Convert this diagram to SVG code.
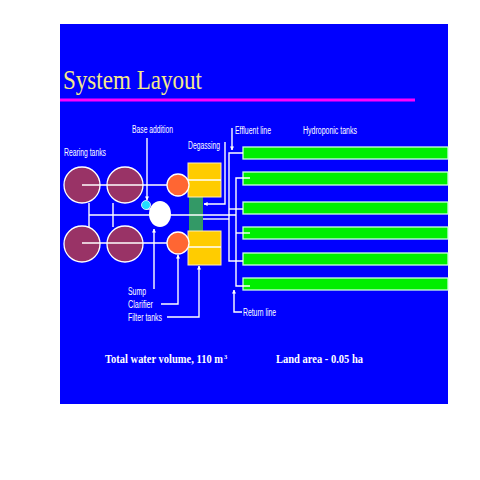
<svg xmlns="http://www.w3.org/2000/svg" width="480" height="480" viewBox="0 0 480 480">
<defs>
<style>
.ln{stroke:#ffffff;stroke-width:1.4;fill:none}
.lbl{font-family:"Liberation Sans",Arial,sans-serif;font-size:10px;fill:#ffffff}
.big{font-family:"Liberation Serif","Times New Roman",serif;font-size:12.5px;font-weight:bold;fill:#ffffff}
.sup{font-family:"Liberation Serif","Times New Roman",serif;font-size:6.5px;font-weight:bold;fill:#ffffff}
.rear{fill:#993366;stroke:#ffffff;stroke-width:1.3}
.orng{fill:#ff6633;stroke:#ffffff;stroke-width:1.3}
.yel{fill:#ffcc00;stroke:#ffeebb;stroke-width:1}
.hyd{fill:#00ee00;stroke:#ccffdd;stroke-width:1.3}
</style>
<marker id="ah" viewBox="0 0 10 10" refX="9" refY="5" markerWidth="4" markerHeight="4" orient="auto" markerUnits="userSpaceOnUse">
<path d="M0,0 L10,5 L0,10 z" fill="#ffffff"/>
</marker>
</defs>
<rect x="60" y="24" width="388" height="380" fill="#0000ff"/>
<text x="63" y="89" font-family="Liberation Serif,'Times New Roman',serif" font-size="28" fill="#f5e98a" textLength="139" lengthAdjust="spacingAndGlyphs">System Layout</text>
<line x1="60" y1="100" x2="415" y2="100" stroke="#ff00ff" stroke-width="3"/>

<g id="hydroponic-tanks">
<rect class="hyd" x="243" y="147" width="205" height="12"/>
<rect class="hyd" x="243" y="172" width="205" height="13"/>
<rect class="hyd" x="243" y="202" width="205" height="12"/>
<rect class="hyd" x="243" y="227" width="205" height="12"/>
<rect class="hyd" x="243" y="253" width="205" height="12"/>
<rect class="hyd" x="243" y="278" width="205" height="12"/>
</g>

<g id="rearing-tanks">
<circle class="rear" cx="82" cy="185" r="18"/>
<circle class="rear" cx="125" cy="185" r="18"/>
<circle class="rear" cx="82" cy="244" r="18"/>
<circle class="rear" cx="125" cy="244" r="18"/>
</g>

<g id="degassing">
<rect x="189" y="197" width="14" height="34" fill="#339966"/>
</g>
<g id="filter-tanks">
<rect class="yel" x="188" y="163" width="33" height="34"/>
<rect class="yel" x="188" y="231" width="33" height="34"/>
<line class="ln" x1="188" y1="180" x2="221" y2="180"/>
<line class="ln" x1="188" y1="247" x2="221" y2="247"/>
</g>

<g id="connectors">
<line class="ln" x1="82" y1="185" x2="167" y2="185"/>
<line class="ln" x1="82" y1="243" x2="167" y2="243"/>
<line class="ln" x1="89" y1="203" x2="89" y2="227"/>
<line class="ln" x1="113" y1="203" x2="113" y2="227"/>
<line class="ln" x1="89" y1="215" x2="236" y2="215"/>
<line class="ln" x1="203" y1="219" x2="229" y2="219"/>
<line class="ln" x1="146" y1="209" x2="152" y2="209"/>
<polyline class="ln" points="243,153 229,153 229,261 243,261"/>
<line class="ln" x1="229" y1="209" x2="243" y2="209"/>
<polyline class="ln" points="250,178 236,178 236,286 250,286"/>
<line class="ln" x1="236" y1="233" x2="250" y2="233"/>
<line class="ln" x1="147" y1="138" x2="147" y2="200" marker-end="url(#ah)"/>
<polyline class="ln" points="225,142 225,204 204,204" marker-end="url(#ah)"/>
<line class="ln" x1="232" y1="128" x2="232" y2="150" marker-end="url(#ah)"/>
<line class="ln" x1="154" y1="289" x2="154" y2="229" marker-end="url(#ah)"/>
<polyline class="ln" points="161,304 178,304 178,255" marker-end="url(#ah)"/>
<polyline class="ln" points="167,317 199,317 199,266" marker-end="url(#ah)"/>
<polyline class="ln" points="242,312 234,312 234,290" marker-end="url(#ah)"/>
</g>

<g id="clarifiers">
<circle class="orng" cx="178" cy="185" r="11"/>
<circle class="orng" cx="178" cy="243" r="11"/>
</g>
<g id="sump">
<ellipse cx="160" cy="214" rx="11" ry="13" fill="#ffffff"/>
</g>
<g id="base-addition">
<circle cx="146" cy="205" r="4.5" fill="#22ddff" stroke="#ffffff" stroke-width="0.8"/>
</g>

<g id="labels">
<text class="lbl" x="64" y="156" textLength="42" lengthAdjust="spacingAndGlyphs">Rearing tanks</text>
<text class="lbl" x="132" y="133" textLength="41" lengthAdjust="spacingAndGlyphs">Base addition</text>
<text class="lbl" x="188" y="149" textLength="32" lengthAdjust="spacingAndGlyphs">Degassing</text>
<text class="lbl" x="235" y="134" textLength="36" lengthAdjust="spacingAndGlyphs">Effluent line</text>
<text class="lbl" x="303" y="134" textLength="54" lengthAdjust="spacingAndGlyphs">Hydroponic tanks</text>
<text class="lbl" x="128" y="295" textLength="18" lengthAdjust="spacingAndGlyphs">Sump</text>
<text class="lbl" x="128" y="308" textLength="25" lengthAdjust="spacingAndGlyphs">Clarifier</text>
<text class="lbl" x="128" y="321" textLength="34" lengthAdjust="spacingAndGlyphs">Filter tanks</text>
<text class="lbl" x="243" y="316" textLength="33" lengthAdjust="spacingAndGlyphs">Return line</text>
<text class="big" x="105" y="363" textLength="118" lengthAdjust="spacingAndGlyphs">Total water volume, 110 m</text>
<text class="sup" x="224" y="359">3</text>
<text class="big" x="276" y="363" textLength="87" lengthAdjust="spacingAndGlyphs">Land area - 0.05 ha</text>
</g>
</svg>
